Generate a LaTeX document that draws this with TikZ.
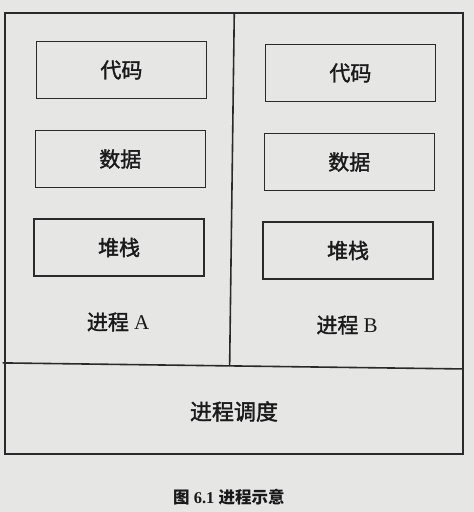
\documentclass[tikz,border=0pt]{standalone}
\usepackage{fontspec}
\setmainfont{Liberation Serif}
\newfontfamily\cjk[FakeBold=1.6]{Noto Sans CJK SC}
\newfontfamily\cjkb{Noto Sans CJK SC}
\definecolor{paper}{HTML}{E6E6E4}
\definecolor{ink}{HTML}{2A2A2A}
\definecolor{txt}{HTML}{1A1A1A}
\tikzset{
  membox/.style={draw=ink, line width=1.4pt, minimum width=170pt, minimum height=57pt,
    inner sep=0pt, text=txt, font=\cjk\fontsize{21}{21}\selectfont},
  frame/.style={draw=ink, line width=1.8pt, minimum width=458pt, minimum height=441pt, inner sep=0pt},
  sep/.style={draw=ink, line width=1.6pt},
  lbl/.style={text=txt, inner sep=0pt, font=\fontsize{21}{21}\selectfont},
}
\begin{document}
\begin{tikzpicture}[x=1pt,y=-1pt]
\fill[paper] (0,0) rectangle (474,512);
\useasboundingbox (0,0) rectangle (474,512);
\begin{scope}[rotate around={-0.75:(237,256)}]
\node[frame] (sys) at (234,233.5) {};
\coordinate (hl) at (5,366);
\draw[sep] (sys.west |- hl) -- (sys.east |- hl);
\draw[sep] (sys.north) -- (sys.north |- hl);
\node[membox] (codeA) at (119,71.5) {代码};
\node[membox] (dataA) at (119,160.5) {数据};
\node[membox] (stackA) at (119,249) {堆栈};
\node[membox] (codeB) at (348,71.5) {代码};
\node[membox] (dataB) at (348,160.5) {数据};
\node[membox] (stackB) at (348,249) {堆栈};
\node[lbl] (procA) at (119,323.6) {{\cjk 进程} A};
\node[lbl] (procB) at (348,323.6) {{\cjk 进程} B};
\node[lbl, font=\cjk\fontsize{22}{22}\selectfont] (sched) at (236,411.5) {进程调度};
\node[lbl, font=\bfseries\fontsize{16.5}{16.5}\selectfont] (cap) at (232,497) {{\cjkb\bfseries 图} 6.1 {\cjkb\bfseries 进程示意}};
\end{scope}
\end{tikzpicture}
\end{document}
